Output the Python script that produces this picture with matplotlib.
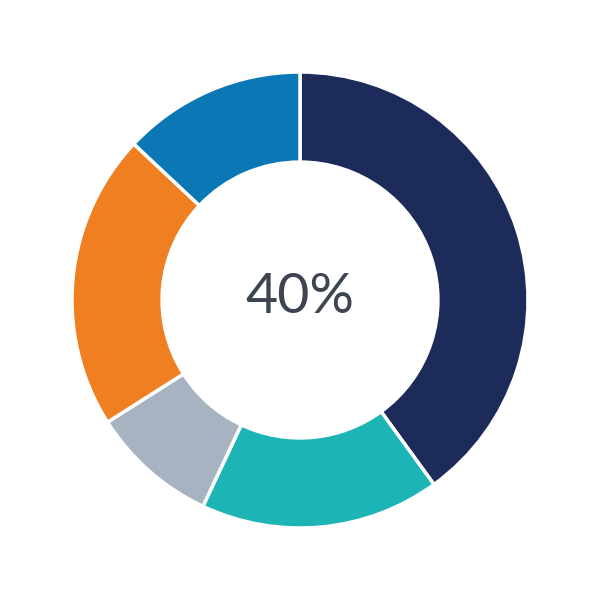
import matplotlib.pyplot as plt

# 数据（从顶部开始顺时针）
labels = ['A', 'B', 'C', 'D', 'E']
values = [40, 17, 9, 21, 13]
colors = ['#1c2b5a', '#1db4b6', '#a8b3c2', '#f07f22', '#0b77b4']
center_text = '40%'

fig = plt.figure(figsize=(6, 6), dpi=100)
ax = fig.add_axes([0, 0, 1, 1])

ax.pie(values, colors=colors, startangle=90, counterclock=False,
       radius=1.0,
       wedgeprops=dict(width=0.395, edgecolor='white', linewidth=2.5))

ax.text(0, 0.01, center_text, ha='center', va='center', fontsize=40,
        color='#3d4551', family=['Lato', 'DejaVu Sans'], fontweight='normal')

lim = 300 / 228
ax.set_xlim(-lim, lim)
ax.set_ylim(-lim, lim)
ax.set_aspect('equal')
ax.axis('off')

fig.savefig('out.png', dpi=100, facecolor='white')
